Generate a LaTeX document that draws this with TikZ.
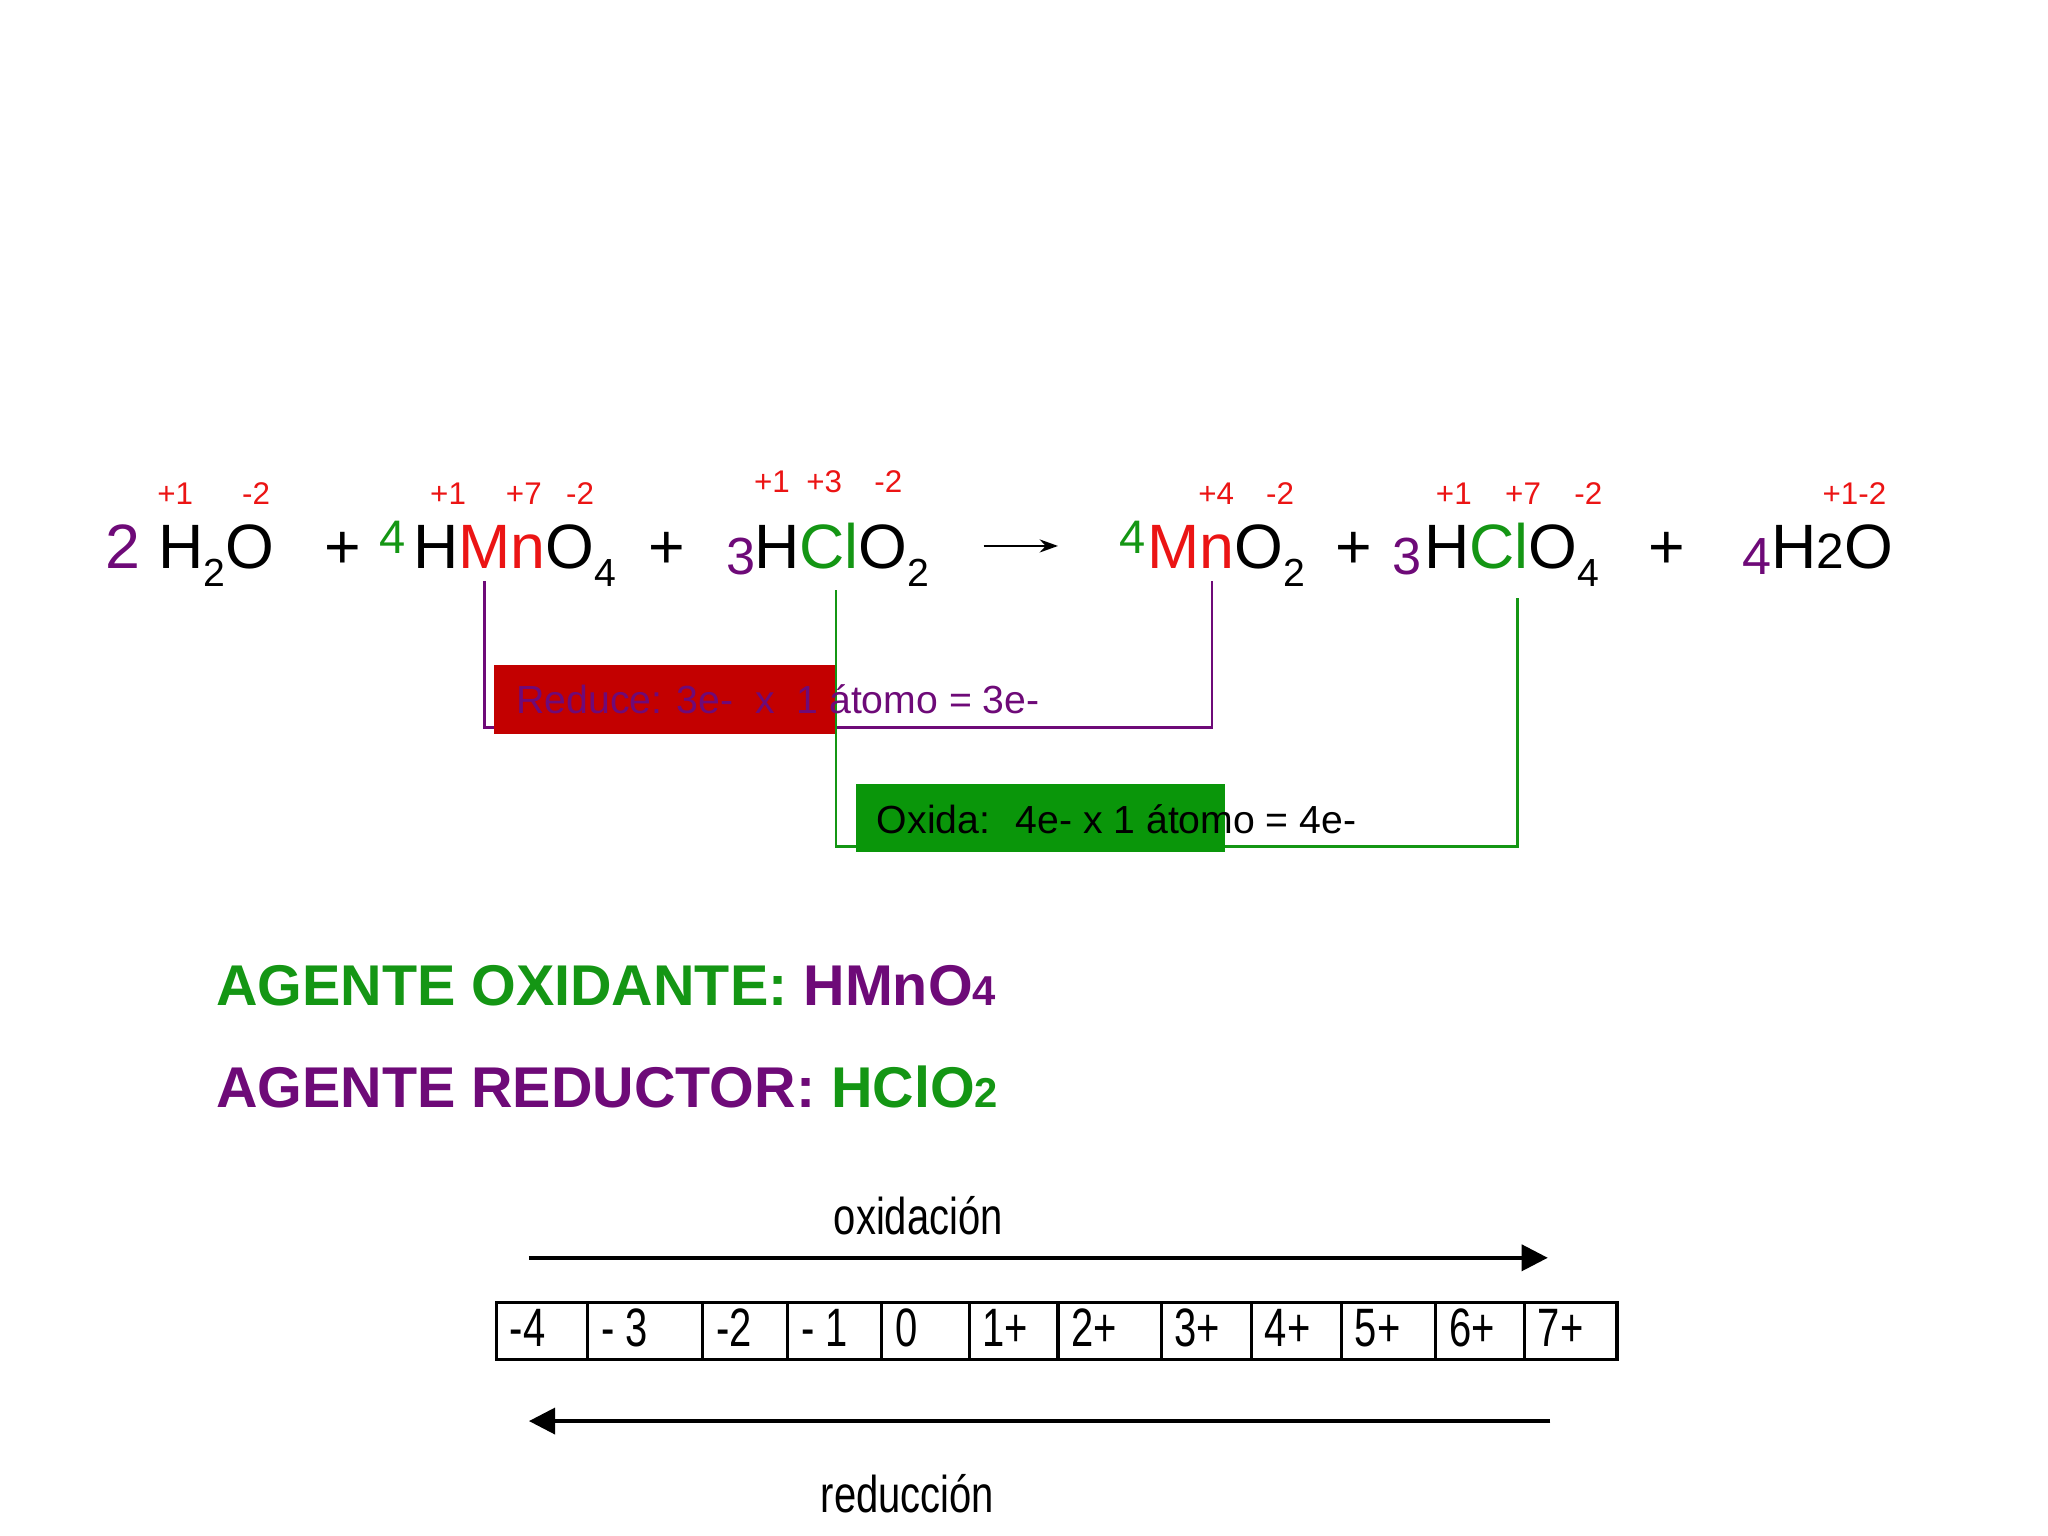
\documentclass[tikz,border=0pt]{standalone}
\usepackage{fontspec}
\setmainfont{Liberation Sans}
\usetikzlibrary{arrows.meta}
\definecolor{pur}{RGB}{110,10,120}
\definecolor{grn}{RGB}{20,150,20}
\definecolor{rd}{RGB}{235,20,20}
\definecolor{boxred}{RGB}{195,0,0}
\definecolor{boxgrn}{RGB}{10,150,10}
\newcommand{\lsub}[1]{\raisebox{-7pt}{\fontsize{15}{15}\selectfont #1}}
\begin{document}
\begin{tikzpicture}[x=0.5pt,y=-0.5pt,
  f/.style={anchor=base west,inner sep=0,font=\fontsize{24}{24}\selectfont},
  ch/.style={anchor=base west,inner sep=0,text=rd,font=\fontsize{12}{12}\selectfont},
  ag/.style={anchor=base west,inner sep=0,font=\fontsize{22}{22}\selectfont\bfseries},
  lab/.style={anchor=base west,inner sep=0,font=\fontsize{15}{15}\selectfont},
  sc/.style={anchor=base west,inner sep=0,font=\fontsize{18}{18}\selectfont}]
\useasboundingbox (0,0) rectangle (1568,1176);
% formula
\node[f,text=pur] (c1) at (80,435) {2};
\node[f] (w1) at (121,435) {H\lsub{2}O};
\node[f] (p1) at (248,435) {+};
\node[f,text=grn,font=\fontsize{18}{18}\selectfont] (c2) at (290,424) {4};
\node[f] (m1) at (316,435) {H\textcolor{rd}{Mn}O\lsub{4}};
\node[f] (p2) at (496,435) {+};
\node[f,text=pur,font=\fontsize{20}{20}\selectfont] (c3) at (556,440) {3};
\node[f] (h1) at (577,435) {H\textcolor{grn}{Cl}O\lsub{2}};
\node[f] (m2) at (878,435) {\textcolor{rd}{Mn}O\lsub{2}};
\node[f,text=grn,font=\fontsize{18}{18}\selectfont] (c4) at (857,424) {4};
\node[f] (p3) at (1022,435) {+};
\node[f,text=pur,font=\fontsize{20}{20}\selectfont] (c5) at (1066,440) {3};
\node[f] (h2) at (1090,435) {H\textcolor{grn}{Cl}O\lsub{4}};
\node[f] (p4) at (1262,435) {+};
\node[f,text=pur,font=\fontsize{20}{20}\selectfont] (c6) at (1334,440) {4};
\node[f] (w2) at (1356,435) {H{\fontsize{19}{19}\selectfont 2}O};
\coordinate (a1) at (753,418); \coordinate (a2) at (810,418);
\draw[-{Stealth[length=7pt,width=5pt]},line width=0.9pt] (a1) -- (a2);
% charges
\node[ch] at (120,386) {+1}; \node[ch] at (185,386) {-2};
\node[ch] at (329,386) {+1}; \node[ch] at (387,386) {+7}; \node[ch] at (433,386) {-2};
\node[ch] at (577,377) {+1}; \node[ch] at (617,377) {+3}; \node[ch] at (669,377) {-2};
\node[ch] at (917,386) {+4}; \node[ch] at (969,386) {-2};
\node[ch] at (1099,386) {+1}; \node[ch] at (1152,386) {+7}; \node[ch] at (1205,386) {-2};
\node[ch] at (1395,386) {+1-2};
% reduce bracket
\coordinate (r1) at (371,445); \coordinate (r2) at (928,445);
\draw[pur,line width=1pt] (r1) -- (371,557) -- (928,557) -- (r2);
\fill[boxred] (378,509) rectangle (640,562);
% oxida bracket
\coordinate (o1) at (640,452); \coordinate (o2) at (1162,458);
\draw[grn,line width=1pt] (o1) -- (640,648) -- (1162,648) -- (o2);
\fill[boxgrn] (655,600) rectangle (938,652);
\node[lab,text=pur] (rt) at (395,546) {Reduce: 3e-~ x~ 1 átomo = 3e-};
\node[lab] (ot) at (671,638) {Oxida:~ 4e- x 1 átomo = 4e-};
% agents
\node[ag,text=grn] (ao) at (165,770) {AGENTE OXIDANTE: \textcolor{pur}{HMnO{\fontsize{16}{16}\selectfont 4}}};
\node[ag,text=pur] (ar) at (165,848) {AGENTE REDUCTOR: \textcolor{grn}{HClO{\fontsize{16}{16}\selectfont 2}}};
% scale
\node[sc] (ox) at (638,945) {\scalebox{0.85}[1.1]{oxidación}};
\coordinate (x1) at (405,963); \coordinate (x2) at (1185,963);
\draw[-{Triangle[length=10pt,width=10pt]},line width=1.3pt] (x1) -- (x2);
\foreach \a/\b/\t [count=\i] in {380/450/-4,450/538/- 3,538/603/-2,603/675/- 1,675/742/0,742/810/1+,810/889/2+,889/958/3+,958/1027/4+,1027/1099/5+,1099/1167/6+,1167/1238/7+}{
  \draw[line width=1.2pt] (\a,997) rectangle (\b,1041);
  \node[sc,anchor=base west] (n\i) at (\a+10,1031) {\scalebox{0.85}[1.15]{\t}};
}
\coordinate (y1) at (1187,1088); \coordinate (y2) at (405,1088);
\draw[-{Triangle[length=10pt,width=10pt]},line width=1.3pt] (y1) -- (y2);
\node[sc] (rd) at (628,1158) {\scalebox{0.85}[1.1]{reducción}};
\end{tikzpicture}
\end{document}
